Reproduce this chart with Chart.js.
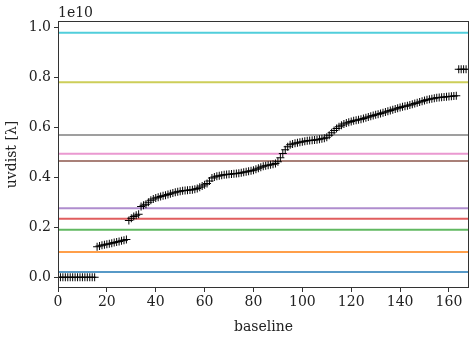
<!DOCTYPE html>
<html>
<head>
<meta charset="utf-8">
<script src="https://cdn.jsdelivr.net/npm/chart.js@4/dist/chart.umd.min.js"></script>
<style>
  html, body { margin: 0; padding: 0; background: #fff; }
  #wrap { width: 474px; height: 337px; }
</style>
</head>
<body>
<div id="wrap"><canvas id="c" width="474" height="337"></canvas></div>
<script>
// uvdist per baseline, in units of 1e10 lambda (sorted)
var uvdist = [
  0, 0, 0, 0, 0, 0, 0, 0, 0, 0, 0, 0, 0, 0, 0, 0,
  0.122, 0.125, 0.128, 0.130, 0.132, 0.134, 0.136, 0.139, 0.141, 0.143, 0.146, 0.148, 0.151,
  0.227, 0.236, 0.243, 0.248, 0.252,
  0.283, 0.288, 0.292, 0.300, 0.308, 0.313, 0.317, 0.320, 0.323, 0.326,
  0.328, 0.331, 0.334, 0.337, 0.340, 0.342, 0.344, 0.346, 0.347, 0.348,
  0.349, 0.350, 0.352, 0.355, 0.360, 0.365, 0.370, 0.375, 0.385, 0.397,
  0.401, 0.404, 0.406, 0.408, 0.410, 0.411, 0.412, 0.413, 0.414, 0.415,
  0.416, 0.418, 0.420, 0.422, 0.424, 0.426, 0.428, 0.432, 0.436, 0.440,
  0.444, 0.446, 0.448, 0.450, 0.452, 0.455, 0.462, 0.478, 0.495, 0.510,
  0.522, 0.530, 0.533, 0.536, 0.538, 0.540, 0.542, 0.544, 0.546, 0.547,
  0.548, 0.549, 0.550, 0.552, 0.554, 0.556, 0.560, 0.568, 0.578, 0.587,
  0.595, 0.602, 0.608, 0.613, 0.617, 0.620, 0.623, 0.626, 0.628, 0.630,
  0.632, 0.635, 0.638, 0.641, 0.644, 0.647, 0.650, 0.652, 0.655, 0.658,
  0.661, 0.664, 0.667, 0.670, 0.673, 0.676, 0.679, 0.682, 0.684, 0.686,
  0.689, 0.692, 0.695, 0.698, 0.701, 0.704, 0.707, 0.710, 0.712, 0.714,
  0.716, 0.718, 0.719, 0.720, 0.721, 0.722, 0.723, 0.724, 0.725, 0.726,
  0.832, 0.832, 0.832, 0.832
];

// horizontal reference levels (1e10 lambda), bottom to top
var levels = [0.021, 0.101, 0.190, 0.234, 0.276, 0.465, 0.494, 0.569, 0.780, 0.978];
var levelColors = ['#1f77b4', '#ff7f0e', '#2ca02c', '#d62728', '#9467bd',
                   '#8c564b', '#e377c2', '#7f7f7f', '#bcbd22', '#17becf'];

var xTicks = [0, 20, 40, 60, 80, 100, 120, 140, 160];
var yTicks = [0, 0.2, 0.4, 0.6, 0.8, 1.0];

var X_MAX = 168.2, Y_MIN = -0.043, Y_MAX = 1.025;
var FONT = "'DejaVu Serif', 'Liberation Serif', serif";

function fade(hex, a) {
  var n = parseInt(hex.slice(1), 16);
  return 'rgba(' + (n >> 16) + ',' + ((n >> 8) & 255) + ',' + (n & 255) + ',' + a + ')';
}

var datasets = [{
  label: 'uvdist',
  data: uvdist.map(function (v, i) { return {x: i, y: v}; }),
  pointStyle: 'cross',
  pointRadius: 4,
  pointBorderWidth: 1,
  borderColor: '#000',
  backgroundColor: '#000',
  showLine: false
}];
levels.forEach(function (lv, k) {
  datasets.push({
    label: 'level' + k,
    data: [{x: 0, y: lv}, {x: X_MAX, y: lv}],
    showLine: true,
    borderColor: fade(levelColors[k], 0.75),
    borderWidth: 2,
    pointRadius: 0
  });
});

// frame + offset text
var framePlugin = {
  id: 'frame',
  afterDraw: function (chart) {
    var ctx = chart.ctx, a = chart.chartArea;
    ctx.save();
    ctx.strokeStyle = '#333';
    ctx.lineWidth = 1;
    ctx.strokeRect(Math.round(a.left) + 0.5, Math.round(a.top) + 0.5,
                   Math.round(a.right - a.left) - 1, Math.round(a.bottom - a.top) - 1);
    ctx.fillStyle = '#222';
    ctx.font = '14px ' + FONT;
    ctx.textAlign = 'left';
    ctx.textBaseline = 'alphabetic';
    ctx.fillText('1e10', a.left, 17);
    ctx.restore();
  }
};

new Chart(document.getElementById('c'), {
  type: 'scatter',
  data: {datasets: datasets},
  plugins: [framePlugin],
  options: {
    responsive: false,
    animation: false,
    events: [],
    layout: {padding: {top: 21, right: 4, left: 0, bottom: 0}},
    plugins: {legend: {display: false}, tooltip: {enabled: false}},
    scales: {
      x: {
        type: 'linear',
        min: 0, max: X_MAX,
        afterBuildTicks: function (s) { s.ticks = xTicks.map(function (v) { return {value: v}; }); },
        afterFit: function (s) { s.height = 49; },
        grid: {drawOnChartArea: false, drawTicks: true, tickLength: 4, color: '#333'},
        border: {display: false},
        ticks: {color: '#222', font: {family: FONT, size: 14}, padding: 2, maxRotation: 0},
        title: {display: true, text: 'baseline', color: '#222', font: {family: FONT, size: 14}, padding: {top: 0, bottom: 1}}
      },
      y: {
        type: 'linear',
        min: Y_MIN, max: Y_MAX,
        afterBuildTicks: function (s) { s.ticks = yTicks.map(function (v) { return {value: v}; }); },
        afterFit: function (s) { s.width = 58; },
        grid: {drawOnChartArea: false, drawTicks: true, tickLength: 4, color: '#333'},
        border: {display: false},
        ticks: {color: '#222', font: {family: FONT, size: 14}, padding: 3,
                callback: function (v) { return v.toFixed(1); }},
        title: {display: true, text: 'uvdist [λ]', color: '#222', font: {family: FONT, size: 14}, padding: {top: 4, bottom: 2}}
      }
    }
  }
});
</script>
</body>
</html>
